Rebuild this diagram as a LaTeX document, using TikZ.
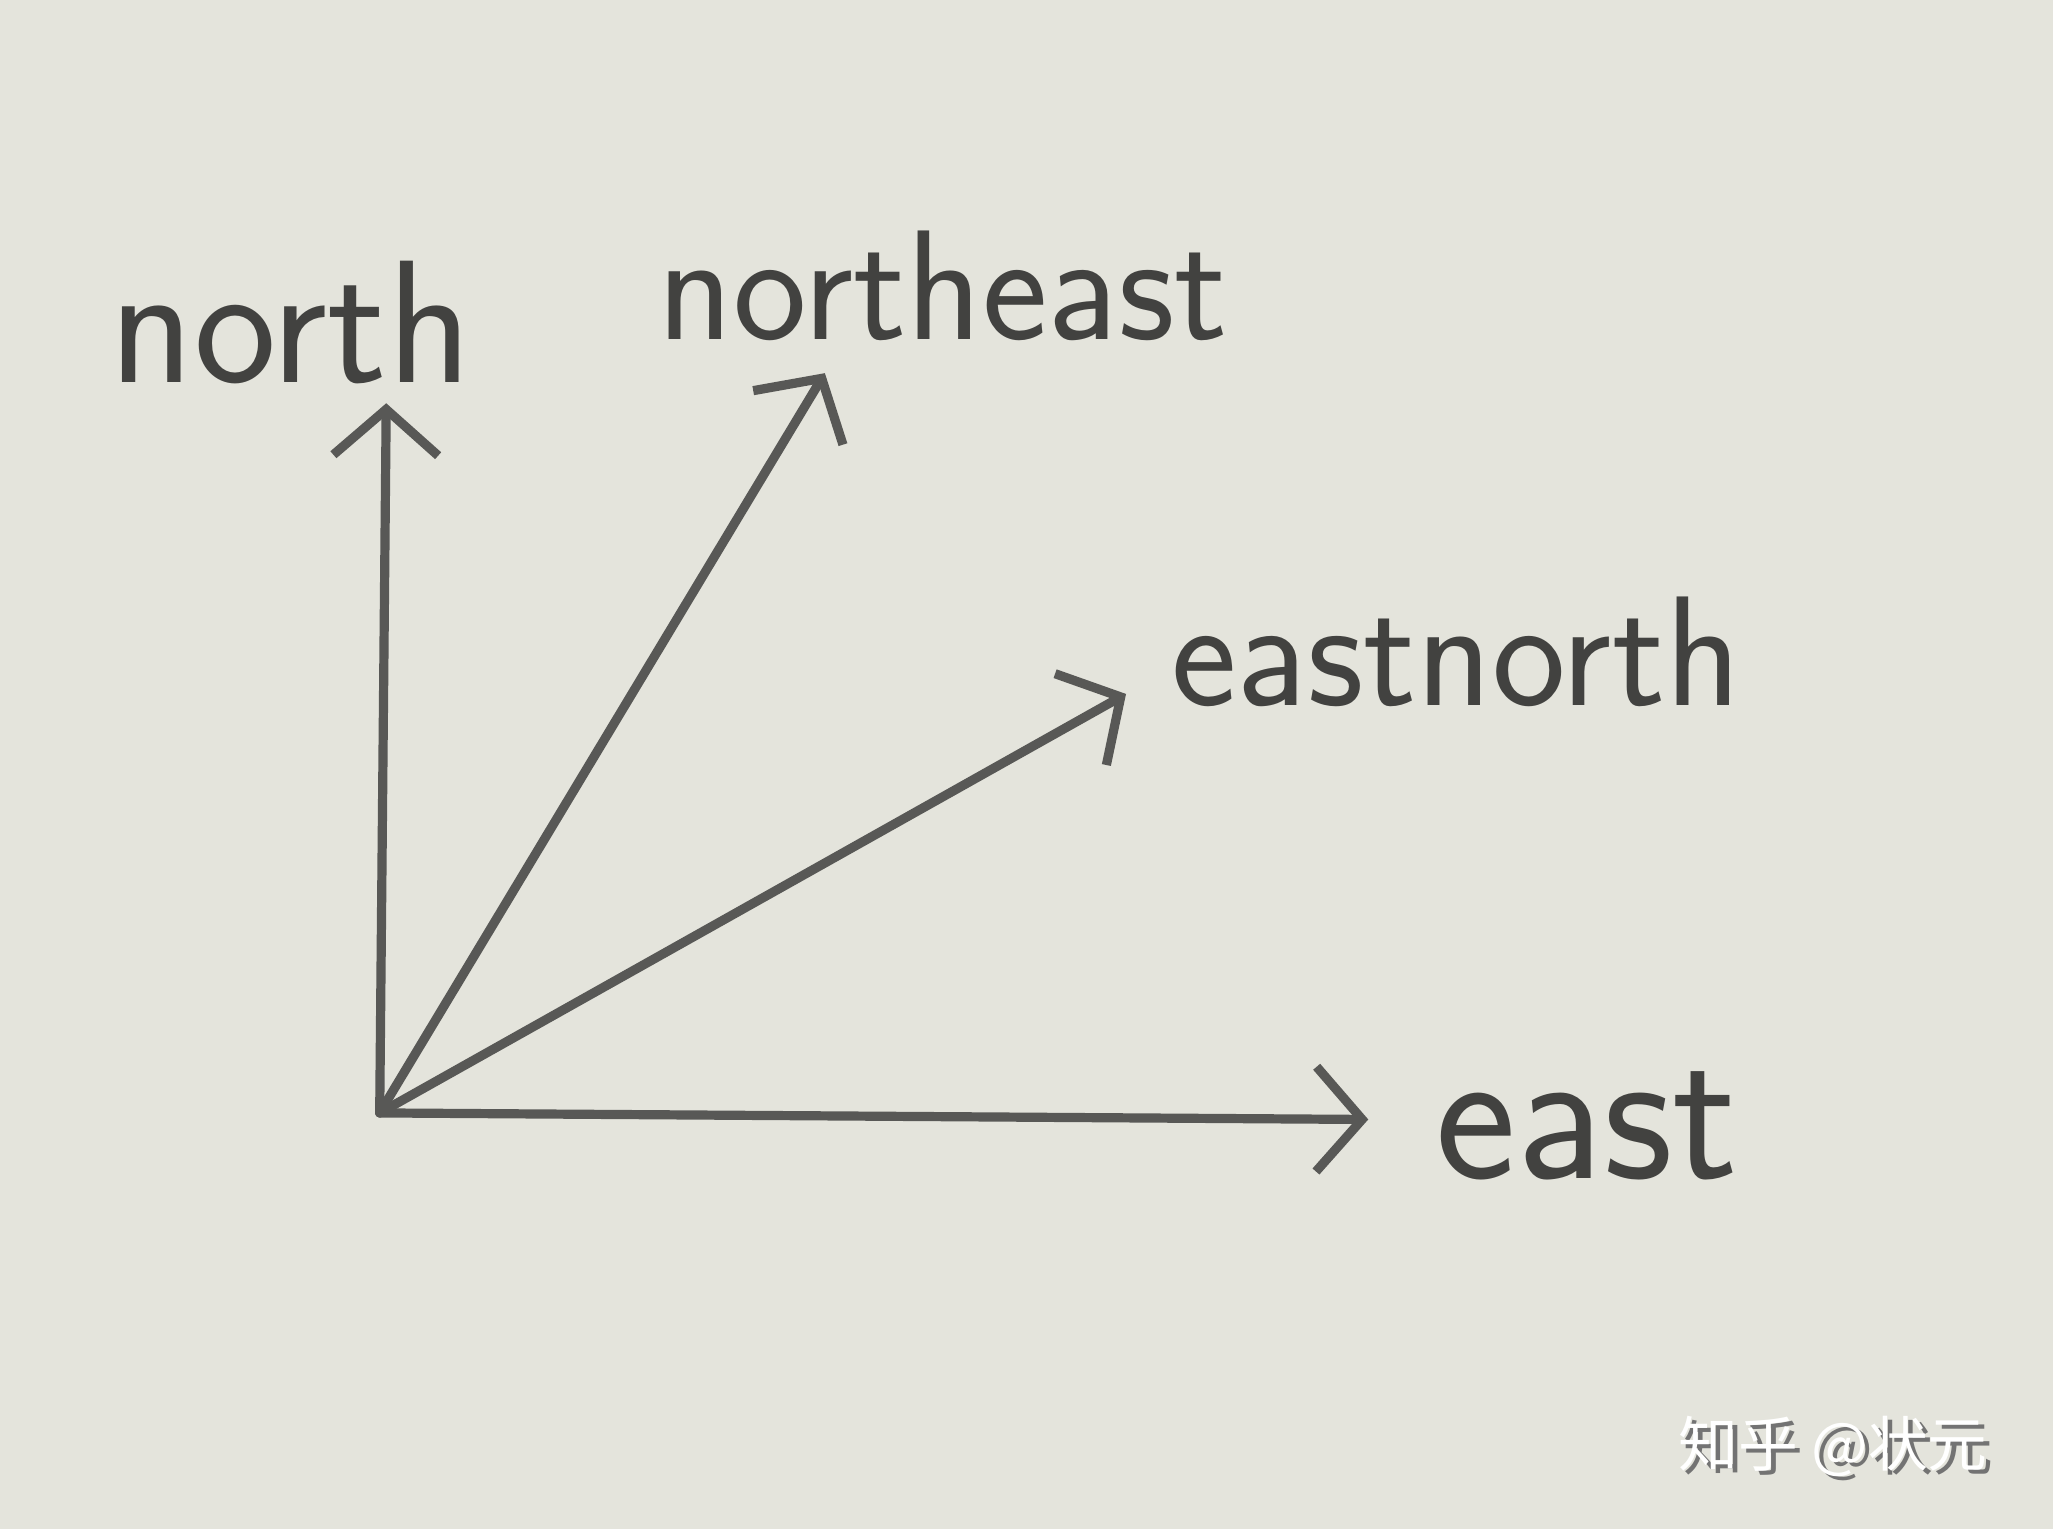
\documentclass[tikz,border=0pt]{standalone}
\usepackage{fontspec}
\newfontfamily\cjk{Noto Sans CJK SC}
\usetikzlibrary{arrows.meta}
\definecolor{paper}{RGB}{228,228,220}
\definecolor{pencil}{RGB}{88,88,86}
\definecolor{ink}{RGB}{66,66,64}
\tikzset{
  vec/.style={draw=pencil, line width=2pt, line cap=round,
    -{Straight Barb[length=3.5mm, width=8mm, line width=2pt]}},
  word/.style={text=ink, font=\sffamily\fontsize{34}{40}\selectfont},
}
\begin{document}
\begin{tikzpicture}
        \fill[paper] (0, 0) rectangle (15.68, 11.68);
        \useasboundingbox (0, 0) rectangle (15.68, 11.68);

        \coordinate (o) at (2.90, 3.18);
        \coordinate (ntip) at (2.95, 8.60);
        \coordinate (netip) at (6.30, 8.83);
        \coordinate (entip) at (8.60, 6.38);
        \coordinate (etip) at (10.45, 3.13);

        \draw[vec] (o) to (ntip);
        \draw[vec] (o) to (netip);
        \draw[vec] (o) to (entip);
        \draw[vec] (o) to (etip);

        \node[word, font=\sffamily\fontsize{38}{44}\selectfont] (north) at (2.22, 9.22){north};
        \node[word] (northeast) at (7.20, 9.50){northeast};
        \node[word] (eastnorth) at (11.12, 6.70){eastnorth};
        \node[word, font=\sffamily\fontsize{42}{48}\selectfont] (east) at (12.12, 3.08){east};

        \node[text=black!55, font=\cjk\fontsize{13}{15}\selectfont] (wmshadow) at (14.04, 0.60){知乎 @状元};
        \node[text=white, font=\cjk\fontsize{13}{15}\selectfont] (wm) at (14.0, 0.63){知乎 @状元};
    \end{tikzpicture}
\end{document}
